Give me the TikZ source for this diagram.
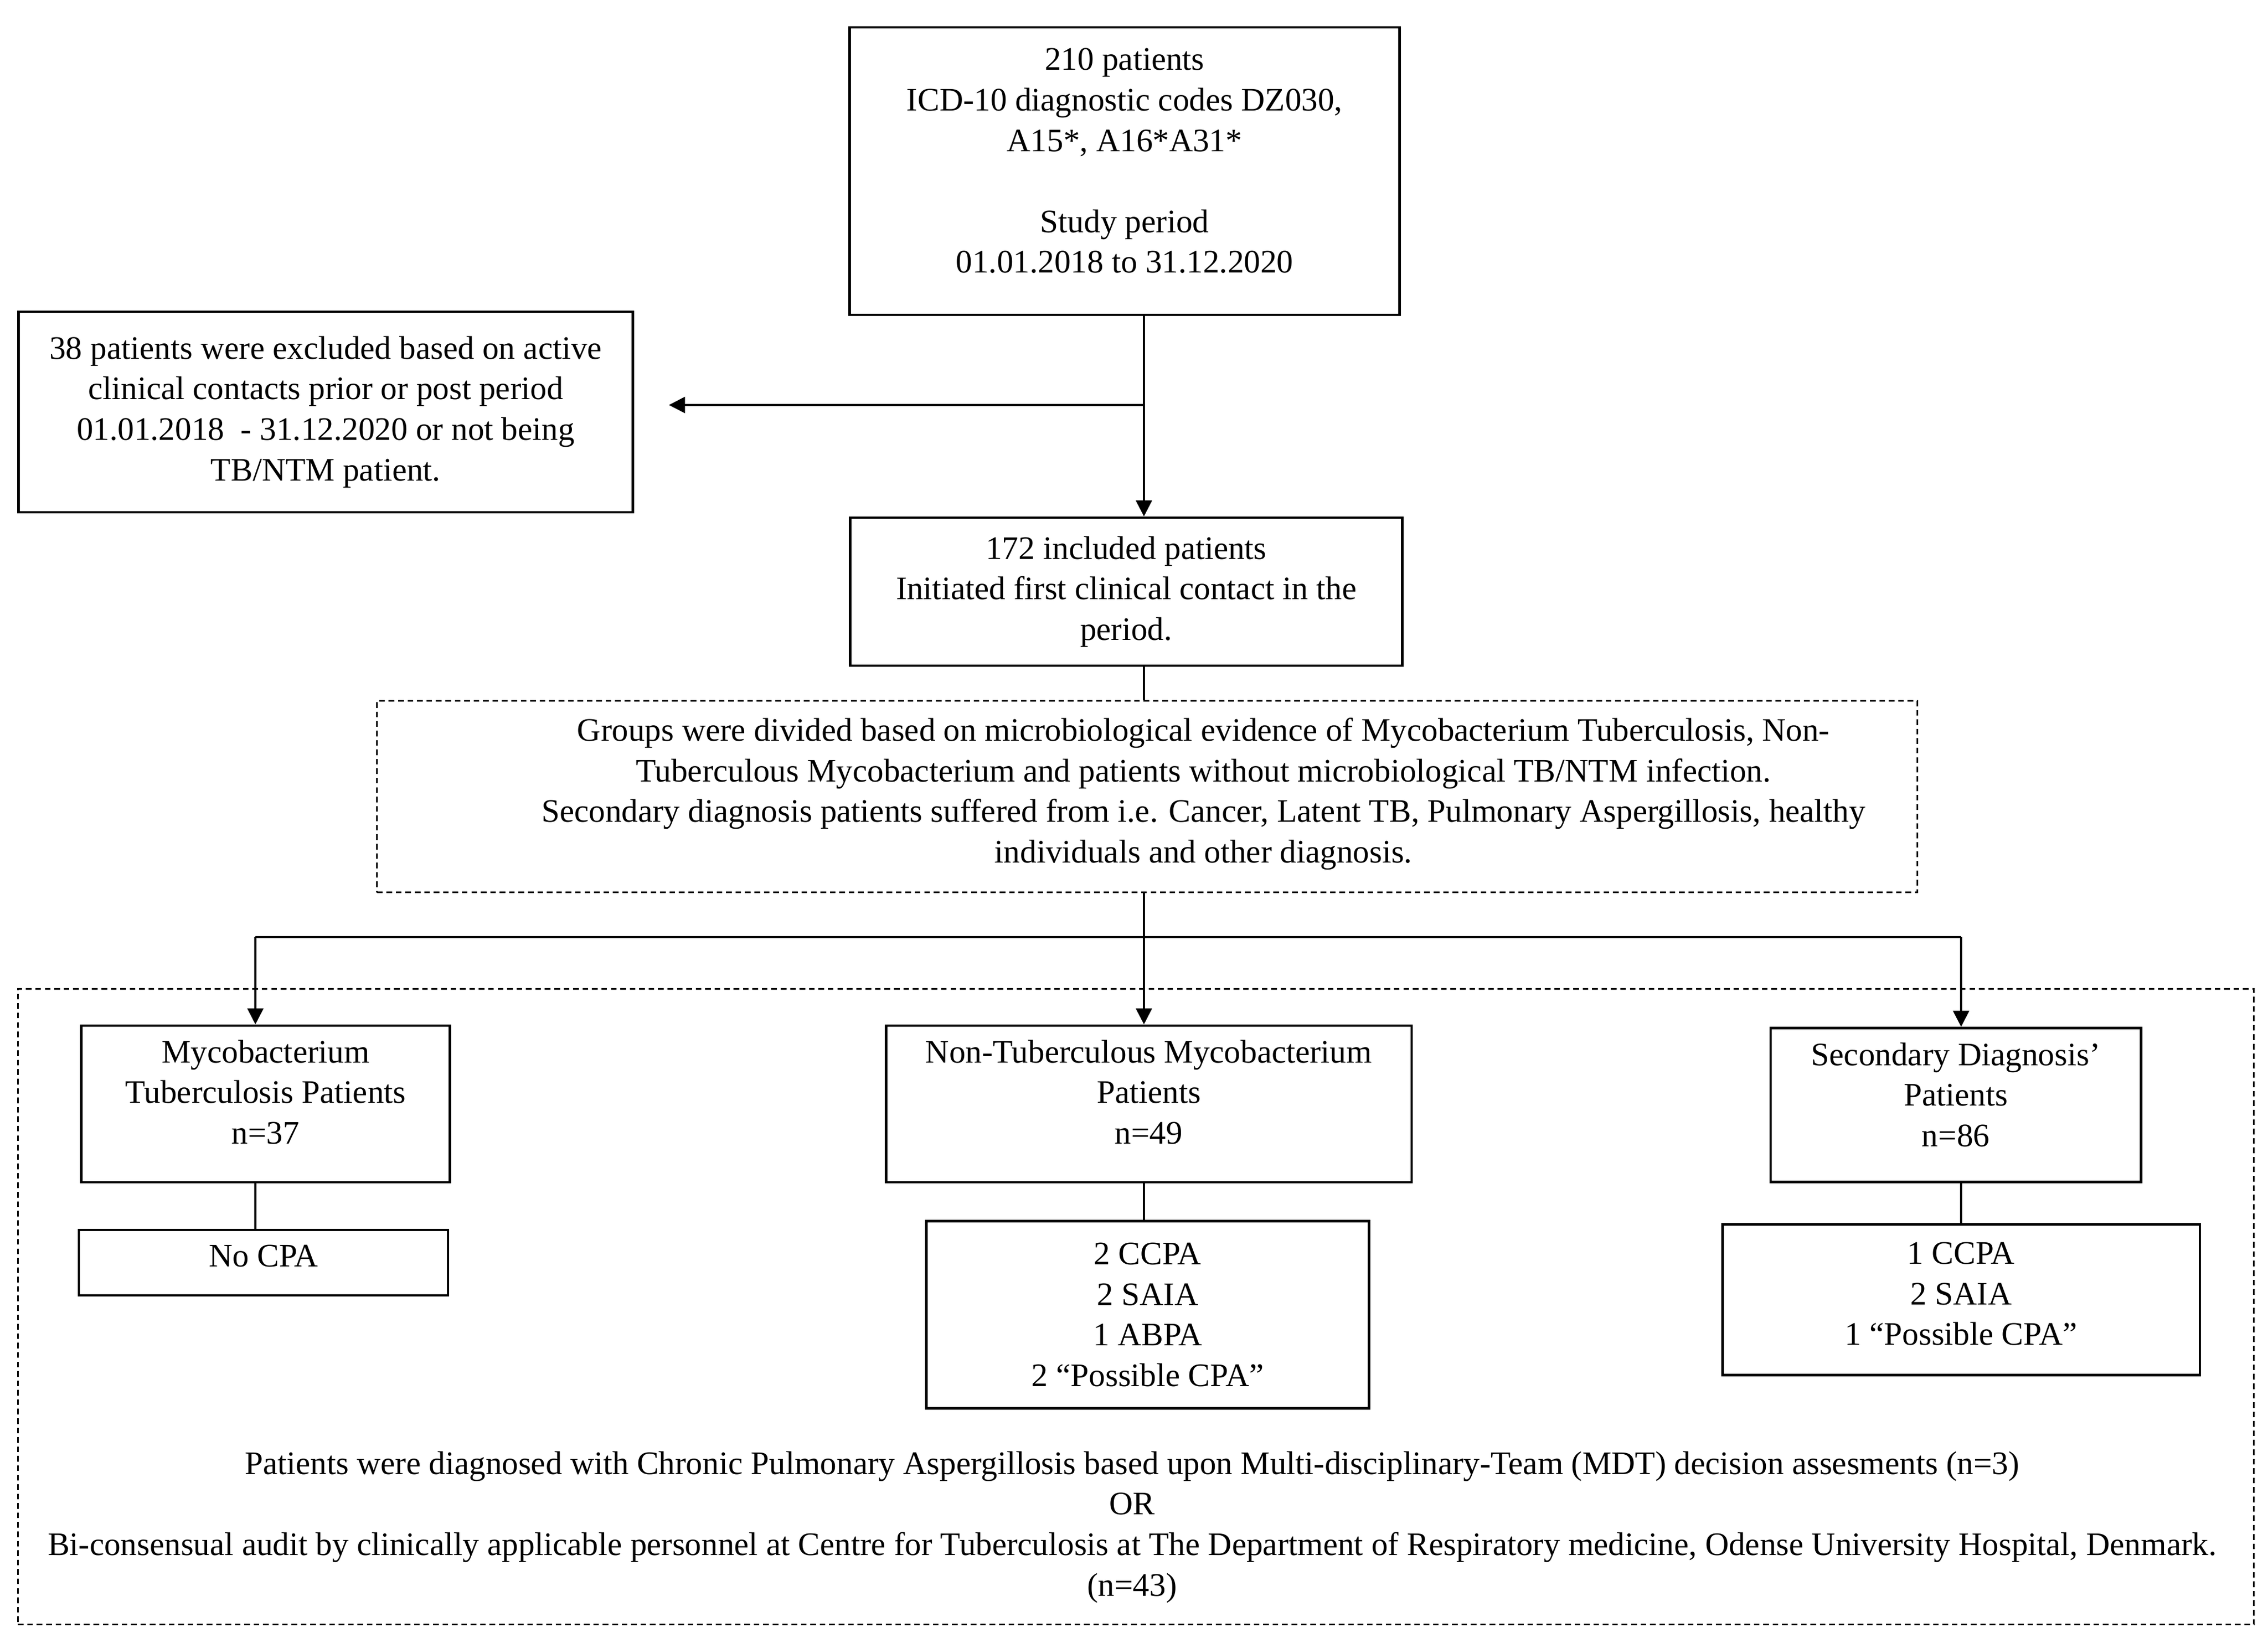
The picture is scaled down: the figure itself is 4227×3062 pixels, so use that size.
\documentclass[tikz,border=0pt]{standalone}
\usepackage{fontspec}
\setmainfont{Liberation Serif}
\usetikzlibrary{arrows.meta}
\begin{document}
\begin{tikzpicture}[x=0.01cm,y=-0.01cm,
  every node/.style={font=\fontsize{17.4}{21.5}\selectfont, align=center, inner sep=0pt},
  solidbox/.style={draw, line width=1.3pt},
  dashbox/.style={draw, line width=0.9pt, dash pattern=on 3pt off 2pt},
  conn/.style={line width=1pt},
  arr/.style={conn, -{Triangle[width=8.5pt,length=8.5pt]}}
]
\fill[white] (0,0) rectangle (4227,3062);
\useasboundingbox (0,0) rectangle (4227,3062);

% outer dashed frame
\node[dashbox, minimum width=41.65cm, minimum height=11.85cm] (big) at (2117,2436) {};

% boxes
\node[solidbox, minimum width=10.24cm, minimum height=5.36cm] (top) at (2096,319) {};
\node (toptext) at (2096,300)
  {210 patients\\ICD-10 diagnostic codes DZ030,\\A15*, A16*A31*\\ \mbox{}\\Study period\\01.01.2018 to 31.12.2020};
\node[solidbox, minimum width=11.44cm, minimum height=3.74cm] (exc) at (607,768)
  {38 patients were excluded based on active\\clinical contacts prior or post period\\01.01.2018~~- 31.12.2020 or not being\\TB/NTM patient.};
\node[solidbox, minimum width=10.28cm, minimum height=2.76cm] (inc) at (2099,1103)
  {172 included patients\\Initiated first clinical contact in the\\period.};
\node[dashbox, minimum width=28.69cm, minimum height=3.57cm] (grp) at (2138,1485) {};
\node (grptext) at (2243,1480)
  {Groups were divided based on microbiological evidence of Mycobacterium Tuberculosis, Non-\\
   Tuberculous Mycobacterium and patients without microbiological TB/NTM infection.\\
   Secondary diagnosis patients suffered from i.e. Cancer, Latent TB, Pulmonary Aspergillosis, healthy\\
   individuals and other diagnosis.};

\node[solidbox, minimum width=6.87cm, minimum height=2.92cm] (mt) at (495,2058) {};
\node (mttext) at (495,2036) {Mycobacterium\\Tuberculosis Patients\\n=37};
\node[solidbox, minimum width=9.79cm, minimum height=2.92cm] (ntm) at (2141,2058) {};
\node (ntmtext) at (2141,2036) {Non-Tuberculous Mycobacterium\\Patients\\n=49};
\node[solidbox, minimum width=6.90cm, minimum height=2.87cm] (sd) at (3645,2060) {};
\node (sdtext) at (3645,2041) {Secondary Diagnosis’\\Patients\\n=86};

\node[solidbox, minimum width=6.88cm, minimum height=1.22cm] (nocpa) at (491,2354) {};
\node (nocpatext) at (491,2341) {No CPA};
\node[solidbox, minimum width=8.25cm, minimum height=3.49cm] (ntmsub) at (2139,2451)
  {2 CCPA\\2 SAIA\\1 ABPA\\2 “Possible CPA”};
\node[solidbox, minimum width=8.89cm, minimum height=2.81cm] (sdsub) at (3655,2423) {};
\node (sdsubtext) at (3655,2412) {1 CCPA\\2 SAIA\\1 “Possible CPA”};

\node (bottomtext) at (2110,2847)
  {Patients were diagnosed with Chronic Pulmonary Aspergillosis based upon Multi-disciplinary-Team (MDT) decision assesments (n=3)\\
   OR\\
   Bi-consensual audit by clinically applicable personnel at Centre for Tuberculosis at The Department of Respiratory medicine, Odense University Hospital, Denmark.\\
   (n=43)};

% connectors
\coordinate (sp) at (2132,0);
\coordinate (exrow) at (0,755);
\coordinate (br) at (0,1747);
\coordinate (lx) at (476,0);
\coordinate (rx) at (3655,0);

\draw[arr] (top.south -| sp) -- (inc.north -| sp);
\draw[arr, shorten >=0.65cm] (sp |- exrow) -- (exrow -| exc.east);
\draw[conn] (inc.south -| sp) -- (grp.north -| sp);
\draw[conn] (grp.south -| sp) -- (sp |- br);
\draw[conn] (lx |- br) -- (rx |- br);
\draw[arr] (lx |- br) -- (mt.north -| lx);
\draw[arr] (sp |- br) -- (ntm.north -| sp);
\draw[arr] (rx |- br) -- (sd.north -| rx);
\draw[conn] (mt.south -| lx) -- (nocpa.north -| lx);
\draw[conn] (ntm.south -| sp) -- (ntmsub.north -| sp);
\draw[conn] (sd.south -| rx) -- (sdsub.north -| rx);
\end{tikzpicture}
\end{document}
